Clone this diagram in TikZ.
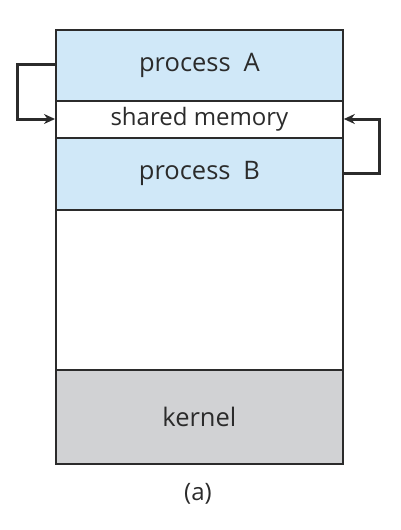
\documentclass[tikz,border=0pt]{standalone}
\usepackage{fontspec}
\setmainfont{Open Sans}
\usetikzlibrary{arrows.meta}
\definecolor{procblue}{HTML}{D0E8F8}
\definecolor{kgray}{HTML}{D1D2D4}
\definecolor{edge}{HTML}{2B2B2B}
\tikzset{
  region/.style={draw=edge,line width=1.8pt,minimum width=287pt,inner sep=0pt,anchor=north west,font=\fontsize{25.5}{28}\selectfont,text=edge},
  conn/.style={draw=edge,line width=3pt,line join=miter,-{Stealth[length=11pt,width=10pt]}}}
\begin{document}
\begin{tikzpicture}[x=1pt,y=-1pt]
\useasboundingbox (0,0) rectangle (400,530);
\node[region,fill=procblue,minimum height=71pt] (pa) at (55,29) {process\,\,\,A};
\node[region,fill=white,minimum height=37pt,font=\fontsize{24}{26}\selectfont] (sm) at (55,100) {shared memory};
\node[region,fill=procblue,minimum height=72pt] (pb) at (55,137) {process\,\,\,B};
\node[region,fill=white,minimum height=160pt] (free) at (55,209) {};
\node[region,fill=kgray,minimum height=94pt] (k) at (55,369) {kernel};
\node[font=\fontsize{24}{26}\selectfont,text=edge] (cap) at (198,494) {(a)};
\coordinate (l1) at (17,64);
\coordinate (l2) at (17,119);
\coordinate (r1) at (379,173);
\coordinate (r2) at (379,119);
\draw[conn] (pa.west |- l1) -- (l1) -- (l2) -- (sm.west |- l2);
\draw[conn] (pb.east |- r1) -- (r1) -- (r2) -- (sm.east |- r2);
\end{tikzpicture}
\end{document}
